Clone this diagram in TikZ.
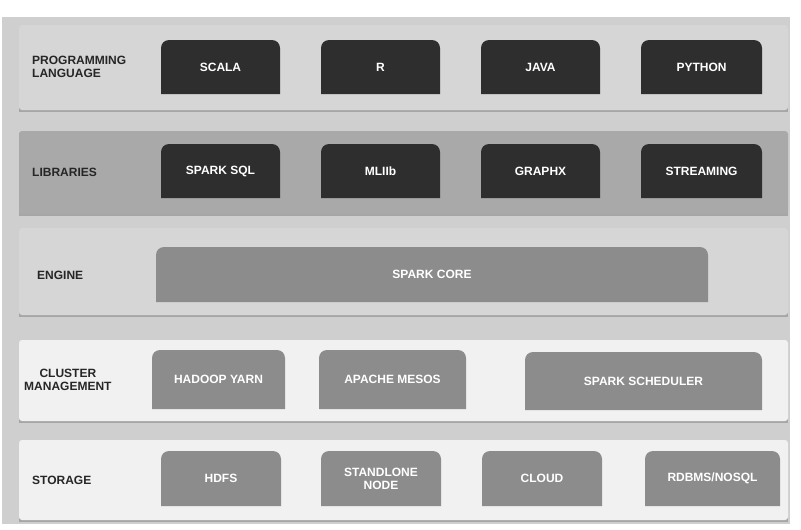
\documentclass[tikz,border=0pt]{standalone}
\usepackage{fontspec}
\setmainfont{Liberation Sans}
\usetikzlibrary{positioning}
\definecolor{darkbox}{HTML}{2E2E2E}
\definecolor{midbox}{HTML}{8C8C8C}
\definecolor{panel}{HTML}{CFCFCF}
\definecolor{bandlight}{HTML}{D6D6D6}
\definecolor{bandmid}{HTML}{A9A9A9}
\definecolor{bandwhite}{HTML}{F1F1F1}
% box with rounded top corners, named node at its centre
\newcommand{\topbox}[7]{%
  \fill[#6] (#2,-#5) -- (#2,-#3-8) arc[start angle=180,end angle=90,radius=8] -- (#4-8,-#3) arc[start angle=90,end angle=0,radius=8] -- (#4,-#5) -- cycle;
  \node[boxtext] (#1) at ({(#2+#4)/2},{-(#3+#5)/2}) {#7};}
% band across the panel
\newcommand{\band}[4]{%
  \fill[gray!70] (19,-#3-2) rectangle (788,-#2-2);
  \fill[#4,rounded corners=3] (19,-#3) rectangle (788,-#2);
  \node[lbl] (#1) at (32,{-(#2+#3)/2}) {};}
\begin{document}
\begin{tikzpicture}[x=1pt,y=1pt,font=\bfseries\fontsize{12}{13}\selectfont]
\tikzset{lbl/.style={anchor=west,align=left,inner sep=0pt,text=black!85},
  boxtext/.style={text=white,align=center,inner sep=0pt}}
\useasboundingbox (0,0) rectangle (801,-530);
\fill[white] (0,0) rectangle (801,-530);
\fill[panel] (2,-17) rectangle (790,-524);
% bands
\band{b1}{25}{110}{bandlight}
\band{b2}{131}{214}{bandmid}
\band{b3}{228}{315}{bandlight}
\band{b4}{340}{421}{bandwhite}
\band{b5}{440}{520}{bandwhite}
% labels
\node[lbl] (prog) at (32,-67) {PROGRAMMING\\LANGUAGE};
\node[lbl] (lib) at (32,-172) {LIBRARIES};
\node[lbl] (eng) at (37,-275) {ENGINE};
\node[lbl,align=center] (clu) at (24,-380) {CLUSTER\\MANAGEMENT};
\node[lbl] (sto) at (32,-480) {STORAGE};
% programming languages
\topbox{scala}{161}{40}{280}{94}{darkbox}{SCALA}
\topbox{r}{321}{40}{440}{94}{darkbox}{R}
\topbox{java}{481}{40}{600}{94}{darkbox}{JAVA}
\topbox{python}{641}{40}{762}{94}{darkbox}{PYTHON}
% libraries
\topbox{sql}{161}{144}{280}{198}{darkbox}{SPARK SQL}
\topbox{mllib}{321}{144}{440}{198}{darkbox}{MLIIb}
\topbox{graphx}{481}{144}{600}{198}{darkbox}{GRAPHX}
\topbox{stream}{641}{144}{762}{198}{darkbox}{STREAMING}
% engine
\topbox{core}{156}{247}{708}{302}{midbox}{SPARK CORE}
% cluster management
\topbox{yarn}{152}{350}{285}{409}{midbox}{HADOOP YARN}
\topbox{mesos}{319}{350}{466}{409}{midbox}{APACHE MESOS}
\topbox{sched}{525}{352}{762}{410}{midbox}{SPARK SCHEDULER}
% storage
\topbox{hdfs}{161}{451}{281}{506}{midbox}{HDFS}
\topbox{stand}{321}{451}{441}{506}{midbox}{STANDLONE\\NODE}
\topbox{cloud}{482}{451}{602}{506}{midbox}{CLOUD}
\topbox{rdbms}{645}{451}{780}{506}{midbox}{RDBMS/NOSQL}
\end{tikzpicture}
\end{document}
